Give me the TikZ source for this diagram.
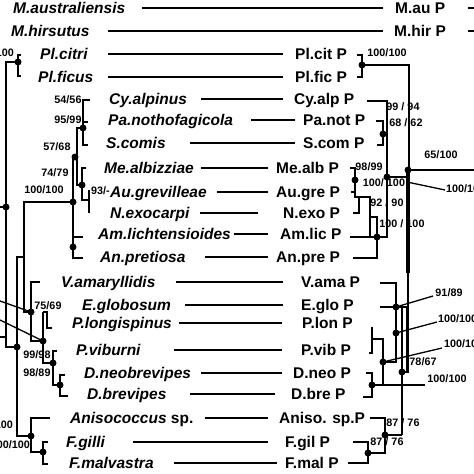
\documentclass[tikz,border=0pt]{standalone}
\usepackage{fontspec}
\setmainfont{Liberation Sans}

\tikzset{
  ins/.style={anchor=west, inner sep=0pt, text height=11pt, text depth=0pt,
    font=\fontsize{15.5}{16}\selectfont\bfseries\itshape},
  sym/.style={anchor=west, inner sep=0pt, text height=11pt, text depth=0pt,
    font=\fontsize{15.5}{16}\selectfont\bfseries},
  bs/.style={inner sep=0pt, text height=7.7pt, text depth=0pt,
    font=\fontsize{10.8}{11}\selectfont\bfseries},
  tree/.style={line width=2pt},
  link/.style={line width=1.3pt},
}

\begin{document}
\begin{tikzpicture}[x=1pt,y=-1pt]
  \useasboundingbox (0,0) rectangle (474,474);
  \clip (0,0) rectangle (474,474);
  \fill[white] (0,0) rectangle (474,474);

  % Insect names and their P partners
  \node[ins] (mau) at (13,8) {M.australiensis};
  \node[sym] (pmau) at (395,8) {M.au P};
  \draw[link] ([xshift=17]mau.east) -- ([xshift=-12]pmau.west);
  \node[ins] (mhi) at (11,31) {M.hirsutus};
  \node[sym] (pmhi) at (394,31) {M.hir P};
  \draw[link] ([xshift=18]mhi.east) -- ([xshift=-11]pmhi.west);
  \node[ins] (pci) at (40,54) {Pl.citri};
  \node[sym] (ppci) at (295,54) {Pl.cit P};
  \draw[link] ([xshift=20]pci.east) -- ([xshift=-12]ppci.west);
  \node[ins] (pfi) at (38,77) {Pl.ficus};
  \node[sym] (ppfi) at (295,77) {Pl.fic P};
  \draw[link] ([xshift=14]pfi.east) -- ([xshift=-12]ppfi.west);
  \node[ins] (cal) at (109,99) {Cy.alpinus};
  \node[sym] (pcal) at (294,99) {Cy.alp P};
  \draw[link] ([xshift=14]cal.east) -- ([xshift=-11]pcal.west);
  \node[ins] (pno) at (108,120) {Pa.nothofagicola};
  \node[sym] (ppno) at (303,120) {Pa.not P};
  \draw[link] ([xshift=18]pno.east) -- ([xshift=-8]ppno.west);
  \node[ins] (sco) at (106,143) {S.comis};
  \node[sym] (psco) at (303,143) {S.com P};
  \draw[link] ([xshift=24]sco.east) -- ([xshift=-8]psco.west);
  \node[ins] (mal) at (104,168) {Me.albizziae};
  \node[sym] (pmal) at (276,168) {Me.alb P};
  \draw[link] ([xshift=7]mal.east) -- ([xshift=-8]pmal.west);
  \node[ins] (agr) at (110,192) {Au.grevilleae};
  \node[sym] (pagr) at (276,192) {Au.gre P};
  \draw[link] ([xshift=10]agr.east) -- ([xshift=-8]pagr.west);
  \node[ins] (nex) at (110,213) {N.exocarpi};
  \node[sym] (pnex) at (283,213) {N.exo P};
  \draw[link] ([xshift=10]nex.east) -- ([xshift=-25]pnex.west);
  \node[ins] (ali) at (98,234) {Am.lichtensioides};
  \node[sym] (pali) at (280,234) {Am.lic P};
  \draw[link] ([xshift=3]ali.east) -- ([xshift=-12]pali.west);
  \node[ins] (apr) at (100,257) {An.pretiosa};
  \node[sym] (papr) at (276,257) {An.pre P};
  \draw[link] ([xshift=19]apr.east) -- ([xshift=-8]papr.west);
  \node[ins] (vam) at (61,282) {V.amaryllidis};
  \node[sym] (pvam) at (301,282) {V.ama P};
  \draw[link] ([xshift=20]vam.east) -- ([xshift=-18]pvam.west);
  \node[ins] (egl) at (82,305) {E.globosum};
  \node[sym] (pegl) at (301,305) {E.glo P};
  \draw[link] ([xshift=14]egl.east) -- ([xshift=-18]pegl.west);
  \node[ins] (plo) at (72,323) {P.longispinus};
  \node[sym] (pplo) at (302,323) {P.lon P};
  \draw[link] ([xshift=7]plo.east) -- ([xshift=-20]pplo.west);
  \node[ins] (pvi) at (76,350) {P.viburni};
  \node[sym] (ppvi) at (301,350) {P.vib P};
  \draw[link] ([xshift=33]pvi.east) -- ([xshift=-19]ppvi.west);
  \node[ins] (dne) at (84,373) {D.neobrevipes};
  \node[sym] (pdne) at (293,373) {D.neo P};
  \draw[link] ([xshift=10]dne.east) -- ([xshift=-11]pdne.west);
  \node[ins] (dbr) at (87,394) {D.brevipes};
  \node[sym] (pdbr) at (291,394) {D.bre P};
  \draw[link] ([xshift=23]dbr.east) -- ([xshift=-16]pdbr.west);
  \node[ins] (ani) at (70,418) {Anisococcus {\upshape sp.}};
  \node[sym] (pani) at (279,418) {Aniso. sp.P};
  \draw[link] ([xshift=11]ani.east) -- ([xshift=-11]pani.west);
  \node[ins] (fgi) at (66,442) {F.gilli};
  \node[sym] (pfgi) at (285,442) {F.gil P};
  \draw[link] ([xshift=28]fgi.east) -- ([xshift=-17]pfgi.west);
  \node[ins] (fma) at (69,463) {F.malvastra};
  \node[sym] (pfma) at (285,463) {F.mal P};
  \draw[link] ([xshift=20]fma.east) -- ([xshift=-8]pfma.west);
  \draw[link] ([xshift=23]pmau.east) -- ++(20,0);
  \draw[link] ([xshift=22]pmhi.east) -- ++(20,0);

  % Insect tree
  \draw[tree] (21,55) -- (18,55) -- (18,76) -- (21,76);
  \draw[tree] (0,207) -- (6,207);
  \draw[tree] (18,62) -- (6,62) -- (6,347) -- (17,347);
  \draw[tree] (24,257) -- (17,257) -- (17,436) -- (31,436);
  \draw[tree] (73,202) -- (24,202) -- (24,312) -- (31,312);
  \draw[tree] (73,157) -- (73,258) -- (83,258);
  \draw[tree] (73,237) -- (83,237);
  \draw[tree] (73,157) -- (77,157);
  \draw[tree] (83,128) -- (77,128) -- (77,185) -- (82,185);
  \draw[tree] (90,100) -- (83,100) -- (83,145) -- (88,145);
  \draw[tree] (83,122) -- (88,122);
  \draw[tree] (86,168) -- (82,168) -- (82,200) -- (89,200);
  \draw[tree] (89,190) -- (89,213);
  \draw[tree] (40,282) -- (31,282) -- (31,341) -- (43,341);
  \draw[tree] (43,312) -- (47,312) -- (47,328) -- (52,328);
  \draw[tree] (43,312) -- (43,363) -- (53,363);
  \draw[tree] (57,351) -- (53,351) -- (53,385) -- (60,385);
  \draw[tree] (65,375) -- (60,375) -- (60,396) -- (68,396);
  \draw[tree] (50,418) -- (31,418) -- (31,452) -- (43,452);
  \draw[tree] (48,442) -- (43,442) -- (43,464) -- (48,464);
  \foreach \p in {(18,62),(6,207),(17,347),(73,202),(73,247),(75,157),
    (83,128),(82,185),(31,312),(43,341),(53,363),(60,385),(31,436),(43,452)}
    \fill \p circle (3.5pt);
  \coordinate (cutA) at (0,301);
  \coordinate (cutB) at (0,320);
  \coordinate (nV) at (31,312);
  \coordinate (nP) at (43,341);
  \draw[link] (cutA) -- (nV);
  \draw[link] (cutB) -- (nP);
  \draw[link] (0,337) -- (5,337);
  \node[bs, anchor=east] at (14,53) {100/100};
  \node[bs] at (68,100) {54/56};
  \node[bs] at (68,120) {95/99};
  \node[bs] at (57,147) {57/68};
  \node[bs] at (55,173) {74/79};
  \node[bs] at (44,190) {100/100};
  \node[bs, anchor=west] at (91,191) {93/-};
  \node[bs] at (48,306) {75/69};
  \node[bs] at (37,355) {99/98};
  \node[bs] at (37,373) {98/89};
  \node[bs, anchor=east] at (13,425) {100/100};
  \node[bs, anchor=east] at (30,445) {100/100};

  % Symbiont tree
  \draw[tree] (357,55) -- (362,55) -- (362,77) -- (357,77);
  \draw[tree] (362,65) -- (409,65) -- (409,170);
  \draw[line width=3.4pt] (408,170) -- (408,273);
  \draw[tree] (408,170) -- (474,170);
  \draw[tree] (408,273) -- (408,372) -- (402,372);
  \draw[tree] (367,101) -- (387,101) -- (387,238);
  \draw[tree] (376,121) -- (383,121) -- (383,145) -- (377,145);
  \draw[tree] (383,134) -- (387,134);
  \draw[tree] (387,177) -- (408,177);
  \draw[tree] (350,168) -- (355,168) -- (355,197) -- (370,197) -- (370,237);
  \draw[tree] (351,192) -- (355,192);
  \draw[tree] (353,213) -- (359,213) -- (359,197);
  \draw[tree] (350,237) -- (387,237);
  \draw[tree] (370,217) -- (377,217) -- (377,258) -- (353,258);
  \draw[tree] (380,283) -- (396,283) -- (396,362) -- (383,362);
  \draw[tree] (380,307) -- (407,307) -- (407,372);
  \draw[tree] (402,307) -- (402,435);
  \draw[tree] (372,327) -- (372,353) -- (369,353);
  \draw[tree] (372,339) -- (383,339) -- (383,385);
  \draw[tree] (366,373) -- (372,373) -- (372,397) -- (363,397);
  \draw[tree] (370,418) -- (385,418) -- (385,453) -- (368,453);
  \draw[tree] (385,435) -- (402,435);
  \draw[tree] (353,442) -- (368,442) -- (368,463) -- (348,463);
  \foreach \p in {(362,65),(408,170),(383,134),(387,177),(355,180),(377,237),
    (396,307),(396,333),(383,362),(402,372),(372,385),(385,435),(368,453)}
    \fill \p circle (3.5pt);
  \draw[link] (407,182) -- (445,190);
  \draw[link] (396,307) -- (433,296);
  \draw[link] (396,333) -- (437,322);
  \draw[link] (383,362) -- (442,348);
  \draw[link] (372,385) -- (425,385);
  \node[bs] at (387,53) {100/100};
  \node[bs] at (403,107) {99 / 94};
  \node[bs] at (406,123) {68 / 62};
  \node[bs] at (441,155) {65/100};
  \node[bs] at (369,167) {98/99};
  \node[bs] at (384,183) {100/ 100};
  \node[bs, anchor=west] at (446,189) {100/100};
  \node[bs] at (387,203) {92 / 90};
  \node[bs] at (402,224) {100 / 100};
  \node[bs] at (449,293) {91/89};
  \node[bs, anchor=west] at (438,319) {100/100};
  \node[bs, anchor=west] at (444,344) {100/100};
  \node[bs] at (423,362) {78/67};
  \node[bs] at (447,379) {100/100};
  \node[bs] at (403,423) {87 / 76};
  \node[bs] at (387,442) {87 / 76};
\end{tikzpicture}
\end{document}
